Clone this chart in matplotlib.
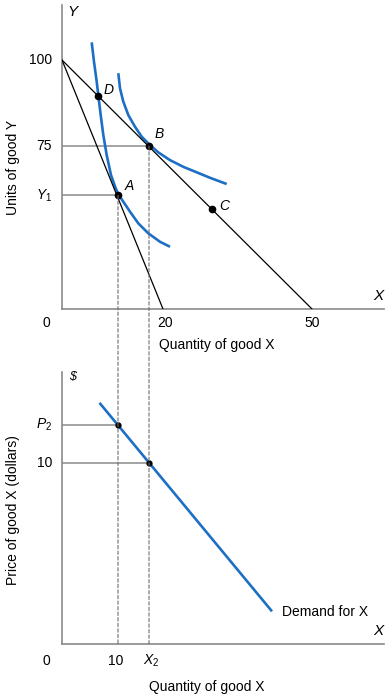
import matplotlib
matplotlib.use("Agg")
import matplotlib.pyplot as plt
from matplotlib.patches import ConnectionPatch

plt.rcParams['font.family'] = ['Liberation Sans', 'DejaVu Sans']
plt.rcParams['mathtext.fontset'] = 'custom'
plt.rcParams['mathtext.rm'] = 'Liberation Sans'
plt.rcParams['mathtext.it'] = 'Liberation Sans:italic'

# ---- data (schematic coordinates) ----
budget1_x = [0, 50]          # shallow budget line
budget1_y = [100, 0]
budget2_x = [0, 20.2]        # steep budget line
budget2_y = [100, 0]

ic1_x = [5.94, 6.4, 6.94, 7.26, 7.74, 8.26, 8.94, 9.8, 10.74, 11.26, 12.26, 13.6, 15.26, 17.26, 19.6, 21.6]
ic1_y = [107.1, 99.3, 91.3, 85.9, 77.9, 69.9, 61.8, 53.8, 48.5, 46.1, 43.1, 39.1, 34.4, 30.4, 27.0, 25.0]
ic2_x = [11.26, 11.6, 12.26, 13.26, 14.6, 15.94, 17.46, 19.26, 21.6, 24.26, 26.94, 29.6, 32.94]
ic2_y = [94.7, 88.6, 83.3, 77.9, 73.2, 69.2, 66.1, 62.9, 59.8, 57.1, 54.9, 52.7, 50.2]

points = {'A': (11.2, 45.6), 'B': (17.4, 65.4), 'C': (30.0, 40.0), 'D': (7.2, 85.6)}

demand_q = [7.5, 42.0]
demand_p = [13.3, 1.8]
price_pts_q = [11.2, 17.4]
price_pts_p = [12.1, 10.0]

BLUE = '#1d6fc6'
GRAY = '#8a8a8a'
DGRAY = '#6e6e6e'
FS = 10

fig = plt.figure(figsize=(3.91, 6.96), dpi=100)
W, H = 391, 696
ax1 = fig.add_axes([62 / W, 1 - 309 / H, (384 - 62) / W, (309 - 5) / H])
ax2 = fig.add_axes([62 / W, 1 - 644 / H, (384 - 62) / W, (644 - 372) / H])

for ax in (ax1, ax2):
    ax.set_facecolor('none')
    for s in ('top', 'right'):
        ax.spines[s].set_visible(False)
    for s in ('left', 'bottom'):
        ax.spines[s].set_color(GRAY)
        ax.spines[s].set_linewidth(1.2)
    ax.set_xticks([])
    ax.set_yticks([])
    ax.set_xlim(0, 64.4)

ax1.set_ylim(0, 122.1)
ax2.set_ylim(0, 15.0)

# ---- top panel ----
ax1.plot(budget1_x, budget1_y, color='black', lw=0.9, zorder=3)
ax1.plot(budget2_x, budget2_y, color='black', lw=0.9, zorder=3)
ax1.plot(ic1_x, ic1_y, color=BLUE, lw=1.9, zorder=2, solid_capstyle='butt', solid_joinstyle='round')
ax1.plot(ic2_x, ic2_y, color=BLUE, lw=1.9, zorder=2, solid_capstyle='butt', solid_joinstyle='round')

ax1.plot([0, points['B'][0]], [points['B'][1]] * 2, color=GRAY, lw=1.1, zorder=1)
ax1.plot([0, points['A'][0]], [points['A'][1]] * 2, color=GRAY, lw=1.1, zorder=1)

for k, (px, py) in points.items():
    ax1.plot(px, py, 'o', color='black', ms=4.5, zorder=4)

lbl_off = {'A': (1.4, 3.7), 'B': (1.2, 4.7), 'C': (1.5, 1.4), 'D': (1.1, 2.4)}
for k, (px, py) in points.items():
    dx, dy = lbl_off[k]
    ax1.text(px + dx, py + dy, k, fontsize=FS, style='italic', ha='left', va='center')

ax1.text(-2.0, 100, '100', fontsize=FS, ha='right', va='center')
ax1.text(-2.0, points['B'][1], '75', fontsize=FS, ha='right', va='center')
ax1.text(-2.0, points['A'][1], '$Y_1$', fontsize=FS, ha='right', va='center')
ax1.text(-3.2, -5.6, '0', fontsize=FS, ha='center', va='center', clip_on=False)
ax1.text(20.6, -5.6, '20', fontsize=FS, ha='center', va='center', clip_on=False)
ax1.text(50, -5.6, '50', fontsize=FS, ha='center', va='center', clip_on=False)
ax1.text(63.2, 5.2, 'X', fontsize=FS + 1, style='italic', ha='center', va='center', clip_on=False)
ax1.text(2.0, 119.3, 'Y', fontsize=FS + 1, style='italic', ha='center', va='center', clip_on=False)

fig.text(217 / W, 1 - 345 / H, 'Quantity of good X', fontsize=FS, ha='center', va='center')
fig.text(13 / W, 1 - 167 / H, 'Units of good Y', fontsize=FS, ha='center', va='center', rotation=90)

# ---- bottom panel ----
ax2.plot(demand_q, demand_p, color=BLUE, lw=1.9, zorder=2, solid_capstyle='butt')
for q, p in zip(price_pts_q, price_pts_p):
    ax2.plot([0, q], [p, p], color=GRAY, lw=1.1, zorder=1)
    ax2.plot(q, p, 'o', color='black', ms=3.5, zorder=4)

ax2.text(-2.0, price_pts_p[0], '$P_2$', fontsize=FS, ha='right', va='center')
ax2.text(-2.0, price_pts_p[1], '10', fontsize=FS, ha='right', va='center')
ax2.text(2.2, 14.75, '$', fontsize=FS - 1, style='italic', ha='center', va='center', clip_on=False)
ax2.text(63.2, 0.72, 'X', fontsize=FS + 1, style='italic', ha='center', va='center', clip_on=False)
ax2.text(44.0, 1.77, 'Demand for X', fontsize=FS, ha='left', va='center')
ax2.text(-3.2, -0.94, '0', fontsize=FS, ha='center', va='center', clip_on=False)
ax2.text(price_pts_q[0] - 0.4, -0.94, '10', fontsize=FS, ha='center', va='center', clip_on=False)
ax2.text(price_pts_q[1] + 0.4, -0.94, '$X_2$', fontsize=FS, ha='center', va='center', clip_on=False)

fig.text(207 / W, 1 - 687 / H, 'Quantity of good X', fontsize=FS, ha='center', va='center')
fig.text(13 / W, 1 - 510 / H, 'Price of good X (dollars)', fontsize=FS, ha='center', va='center', rotation=90)

# ---- dashed connectors spanning both panels ----
for (q, top_y) in [(points['A'][0], points['A'][1]), (points['B'][0], points['B'][1])]:
    con = ConnectionPatch(xyA=(q, top_y), coordsA=ax1.transData,
                          xyB=(q, 0), coordsB=ax2.transData,
                          color=DGRAY, lw=0.8, linestyle=(0, (3, 2)), zorder=5)
    fig.add_artist(con)

fig.savefig('out.png', dpi=100)
